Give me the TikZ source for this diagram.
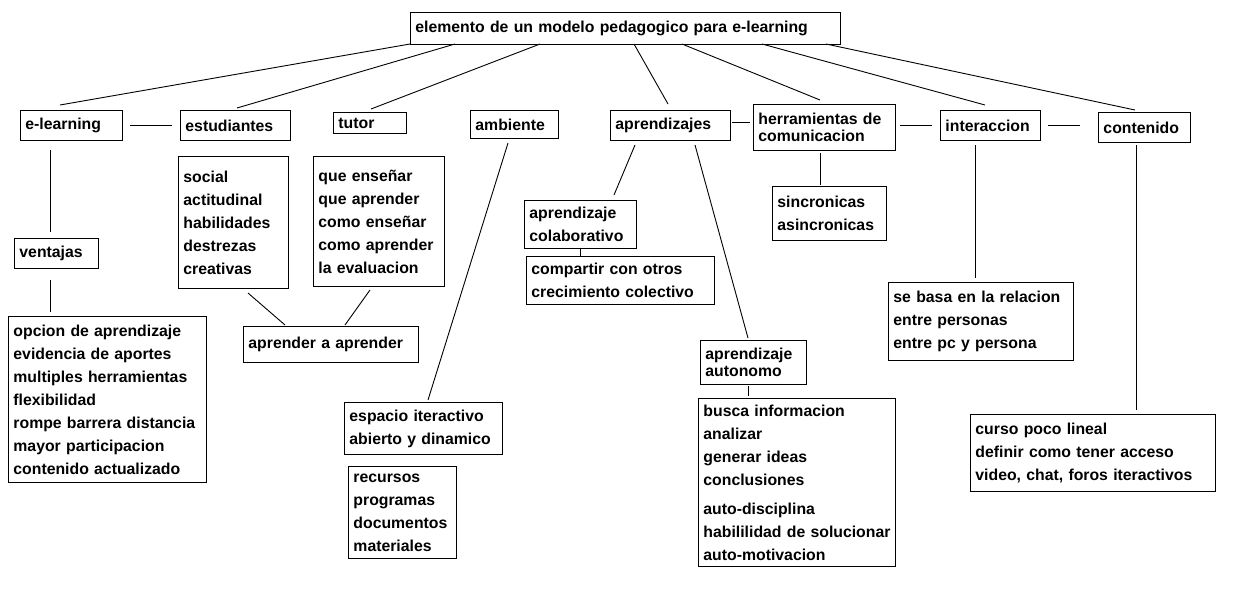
\documentclass[tikz,border=0pt]{standalone}
\usepackage{fontspec}
\setmainfont{Liberation Sans}
\begin{document}
\begin{tikzpicture}[x=1pt,y=-1pt,
  bx/.style={draw,line width=0.9pt,anchor=north west,inner xsep=5pt,inner ysep=1pt,align=left,
    font=\fontsize{15.8}{23}\selectfont\bfseries},
  ln/.style={line width=0.9pt}]
\useasboundingbox[fill=white] (0,0) rectangle (1233,589);
\newcommand\bb[6]{\node[bx,minimum width={#3-#1},minimum height={#4-#2},text width={#3-#1-10}] (#5) at (#1,#2) {#6};}
\bb{410}{12}{840}{44}{top}{elemento de un modelo pedagogico para e-learning}
\bb{20}{110}{122}{140}{el}{e-learning}
\bb{180}{110}{290}{140}{est}{estudiantes}
\bb{333}{112}{406}{133}{tut}{tutor}
\bb{470}{110}{558}{138}{amb}{ambiente}
\bb{610}{110}{730}{140}{apr}{aprendizajes}
\node[bx,minimum width=142,minimum height=46,text width=132,font=\fontsize{15.8}{17}\selectfont\bfseries] (her) at (753,104) {herramientas de\\comunicacion};
\bb{940}{110}{1040}{140}{int}{interaccion}
\bb{1098}{112}{1190}{142}{con}{contenido}
\bb{14}{238}{98}{268}{ven}{ventajas}
\bb{8}{316}{206}{482}{venl}{opcion de aprendizaje\\evidencia de aportes\\multiples herramientas\\flexibilidad\\rompe barrera distancia\\mayor participacion\\contenido actualizado}
\bb{178}{156}{288}{288}{estl}{social\\actitudinal\\habilidades\\destrezas\\creativas}
\bb{313}{156}{444}{286}{tutl}{que enseñar\\que aprender\\como enseñar\\como aprender\\la evaluacion}
\bb{243}{326}{418}{362}{aa}{aprender a aprender}
\bb{344}{402}{502}{454}{esp}{espacio iteractivo\\abierto y dinamico}
\bb{348}{466}{456}{558}{rec}{recursos\\programas\\documentos\\materiales}
\node[bx,minimum width=112,minimum height=48,text width=102] (col) at (524,200) {aprendizaje\\colaborativo};
\bb{526}{256}{714}{304}{comp}{compartir con otros\\crecimiento colectivo}
\bb{772}{186}{886}{240}{sin}{sincronicas\\asincronicas}
\bb{888}{282}{1073}{360}{seb}{se basa en la relacion\\entre personas\\entre pc y persona}
\node[bx,minimum width=106,minimum height=44,text width=96,font=\fontsize{15.8}{17}\selectfont\bfseries] (aut) at (700,340) {aprendizaje\\autonomo};
\bb{698}{398}{895}{566}{autl}{busca informacion\\analizar\\generar ideas\\conclusiones\\[6pt]auto-disciplina\\habililidad de solucionar\\auto-motivacion}
\bb{970}{414}{1215}{491}{cur}{curso poco lineal\\definir como tener acceso\\video, chat, foros iteractivos}
% connectors
\draw[ln] (410,44) -- (60,105);
\draw[ln] (455,44) -- (237,108);
\draw[ln] (540,44) -- (371,109);
\draw[ln] (634,44) -- (668,104);
\draw[ln] (682,44) -- (820,100);
\draw[ln] (762,44) -- (985,105);
\draw[ln] (826,44) -- (1135,110);
\draw[ln] (130,125) -- (172,125);
\draw[ln] (732,122) -- (750,122);
\draw[ln] (900,125) -- (932,125);
\draw[ln] (1048,125) -- (1080,125);
\draw[ln] (50,150) -- (50,232);
\draw[ln] (50,280) -- (50,312);
\draw[ln] (248,293) -- (285,325);
\draw[ln] (370,290) -- (345,325);
\draw[ln] (508,143) -- (428,400);
\draw[ln] (635,145) -- (614,195);
\draw[ln] (695,145) -- (748,338);
\draw[ln] (580,248) -- (580,256);
\draw[ln] (820,153) -- (820,185);
\draw[ln] (975,145) -- (975,278);
\draw[ln] (1136,145) -- (1136,410);
\draw[ln] (748,386) -- (748,396);
\end{tikzpicture}
\end{document}
